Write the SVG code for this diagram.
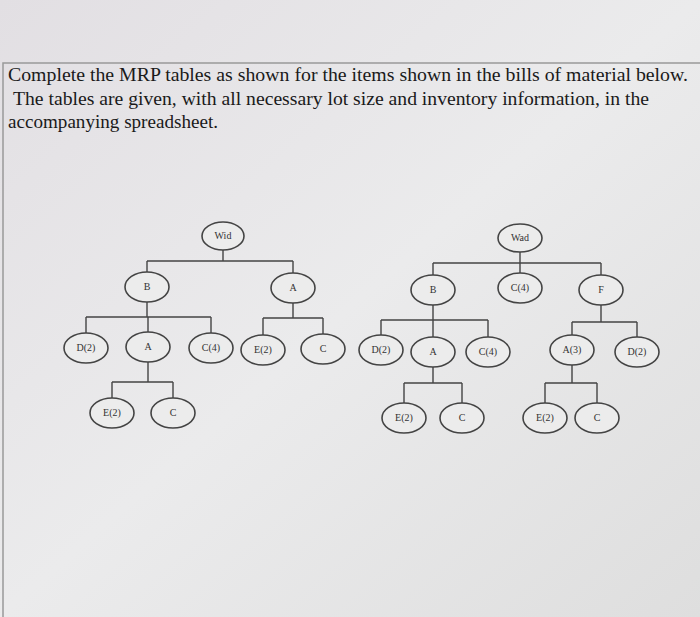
<svg xmlns="http://www.w3.org/2000/svg" width="700" height="617" viewBox="0 0 700 617">
<defs><linearGradient id="bg" x1="0" y1="0" x2="1" y2="1"><stop offset="0" stop-color="#e2dfe3"/><stop offset="0.5" stop-color="#ebebec"/><stop offset="1" stop-color="#dedede"/></linearGradient></defs>
<style>
.t{font-family:"Liberation Serif",serif;font-size:19px;fill:#1a1a1a}
.n ellipse{fill:#ececec;stroke:#444;stroke-width:1.6}
.n text{font-family:"Liberation Serif",serif;font-size:10px;fill:#333;text-anchor:middle}
.c{stroke:#444;stroke-width:1.4;fill:none}
</style>
<rect width="700" height="617" fill="url(#bg)"/>
<path d="M3,617 V63 H700" fill="none" stroke="#999" stroke-width="1.5"/>
<text class="t" x="8" y="81" textLength="680" lengthAdjust="spacingAndGlyphs">Complete the MRP tables as shown for the items shown in the bills of material below.</text>
<text class="t" x="13" y="105" textLength="636" lengthAdjust="spacingAndGlyphs">The tables are given, with all necessary lot size and inventory information, in the</text>
<text class="t" x="8" y="128" textLength="210" lengthAdjust="spacingAndGlyphs">accompanying spreadsheet.</text>
<g id="connectors" class="c">
<path d="M223,250V261M147,261H293M147,261V272M293,261V273"/>
<path d="M147,302V317M86,317H211M86,317V333M148,317V333M211,317V333"/>
<path d="M293,302V318M263,318H323M263,318V336M323,318V335"/>
<path d="M148,362V382M112,382H173M112,382V399M173,382V399"/>
<path d="M520,252V263M433,263H601M433,263V276M520,263V274M601,263V276"/>
<path d="M433,305V320M381,320H488M381,320V336M433,320V337M488,320V337"/>
<path d="M601,305V322M572,322H637M572,322V336M637,322V337"/>
<path d="M433,367V383M404,383H462M404,383V404M462,383V404"/>
<path d="M572,365V383M545,383H597M545,383V404M597,383V404"/>
</g>
<g class="n">
<g id="wid"><ellipse cx="223" cy="236" rx="21" ry="14"/><text x="223" y="239">Wid</text></g>
<g id="l_b"><ellipse cx="147" cy="287" rx="22" ry="15"/><text x="147" y="290">B</text></g>
<g id="l_a"><ellipse cx="293" cy="288" rx="22" ry="15"/><text x="293" y="291">A</text></g>
<g id="l_d2"><ellipse cx="86" cy="348" rx="22" ry="15"/><text x="86" y="351">D(2)</text></g>
<g id="l_ba"><ellipse cx="148" cy="347" rx="22" ry="15"/><text x="148" y="350">A</text></g>
<g id="l_c4"><ellipse cx="211" cy="348" rx="22" ry="15"/><text x="211" y="351">C(4)</text></g>
<g id="l_e2a"><ellipse cx="263" cy="350" rx="22" ry="15"/><text x="263" y="353">E(2)</text></g>
<g id="l_ca"><ellipse cx="323" cy="349" rx="22" ry="15"/><text x="323" y="352">C</text></g>
<g id="l_e2b"><ellipse cx="112" cy="413" rx="22" ry="15"/><text x="112" y="416">E(2)</text></g>
<g id="l_cb"><ellipse cx="173" cy="413" rx="22" ry="15"/><text x="173" y="416">C</text></g>
<g id="wad"><ellipse cx="520" cy="238" rx="22" ry="14"/><text x="520" y="241">Wad</text></g>
<g id="r_b"><ellipse cx="433" cy="290" rx="22" ry="15"/><text x="433" y="293">B</text></g>
<g id="r_c4"><ellipse cx="520" cy="288" rx="22" ry="15"/><text x="520" y="291">C(4)</text></g>
<g id="r_f"><ellipse cx="601" cy="290" rx="22" ry="15"/><text x="601" y="293">F</text></g>
<g id="r_d2"><ellipse cx="381" cy="350" rx="22" ry="15"/><text x="381" y="353">D(2)</text></g>
<g id="r_ba"><ellipse cx="433" cy="352" rx="22" ry="15"/><text x="433" y="355">A</text></g>
<g id="r_bc4"><ellipse cx="488" cy="352" rx="22" ry="15"/><text x="488" y="355">C(4)</text></g>
<g id="r_a3"><ellipse cx="572" cy="350" rx="22" ry="15"/><text x="572" y="353">A(3)</text></g>
<g id="r_fd2"><ellipse cx="637" cy="352" rx="22" ry="15"/><text x="637" y="355">D(2)</text></g>
<g id="r_e2a"><ellipse cx="404" cy="418" rx="22" ry="15"/><text x="404" y="421">E(2)</text></g>
<g id="r_ca"><ellipse cx="462" cy="418" rx="22" ry="15"/><text x="462" y="421">C</text></g>
<g id="r_e2b"><ellipse cx="545" cy="418" rx="22" ry="15"/><text x="545" y="421">E(2)</text></g>
<g id="r_cb"><ellipse cx="597" cy="418" rx="22" ry="15"/><text x="597" y="421">C</text></g>
</g>
</svg>
